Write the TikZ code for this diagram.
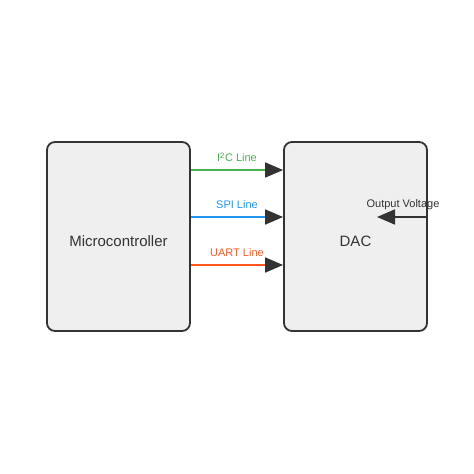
\documentclass[tikz,border=0pt]{standalone}
\usepackage{fontspec}
\setmainfont{Liberation Sans}
\usetikzlibrary{arrows.meta}
\definecolor{boxfill}{HTML}{EFEFEF}
\definecolor{boxline}{HTML}{333333}
\definecolor{cgreen}{HTML}{4CAF50}
\definecolor{cblue}{HTML}{2196F3}
\definecolor{corange}{HTML}{FF5722}
\begin{document}
\begin{tikzpicture}[x=1pt,y=-1pt,
  blockbox/.style={draw=boxline,fill=boxfill,line width=1.8pt,rounded corners=8pt,minimum width=143pt,minimum height=189pt,inner sep=0pt},
  blocktext/.style={font=\fontsize{15}{18}\selectfont,text=boxline,inner sep=0pt},
  link/.style={line width=1.8pt,-{Triangle[length=18pt,width=15pt,color=boxline,fill=boxline]}},
  linklabel/.style={font=\fontsize{11}{13}\selectfont,inner sep=0pt}]
\useasboundingbox (0,0) rectangle (474,474);
\node[blockbox] (mcu) at (118.5,236.5) {};
\node[blockbox] (dac) at (355.5,236.5) {};
\node[blocktext] (mcutext) at (118.5,241) {Microcontroller};
\node[blocktext] (dactext) at (355.5,241) {DAC};
\coordinate (outstart) at (427,217);
\coordinate (outend) at (377,217);
\draw[link,cgreen] (mcu.east |- 0,170) -- (dac.west |- 0,170) node[linklabel,midway,above=7pt,text=cgreen] {I\textsuperscript{2}C Line};
\draw[link,cblue] (mcu.east |- 0,217) -- (dac.west |- 0,217) node[linklabel,midway,above=7pt,text=cblue] {SPI Line};
\draw[link,corange] (mcu.east |- 0,265) -- (dac.west |- 0,265) node[linklabel,midway,above=7pt,text=corange] {UART Line};
\draw[link,boxline] (outstart) -- (outend);
\node[linklabel,text=boxline] (outlabel) at (403,205) {Output Voltage};
\end{tikzpicture}
\end{document}
